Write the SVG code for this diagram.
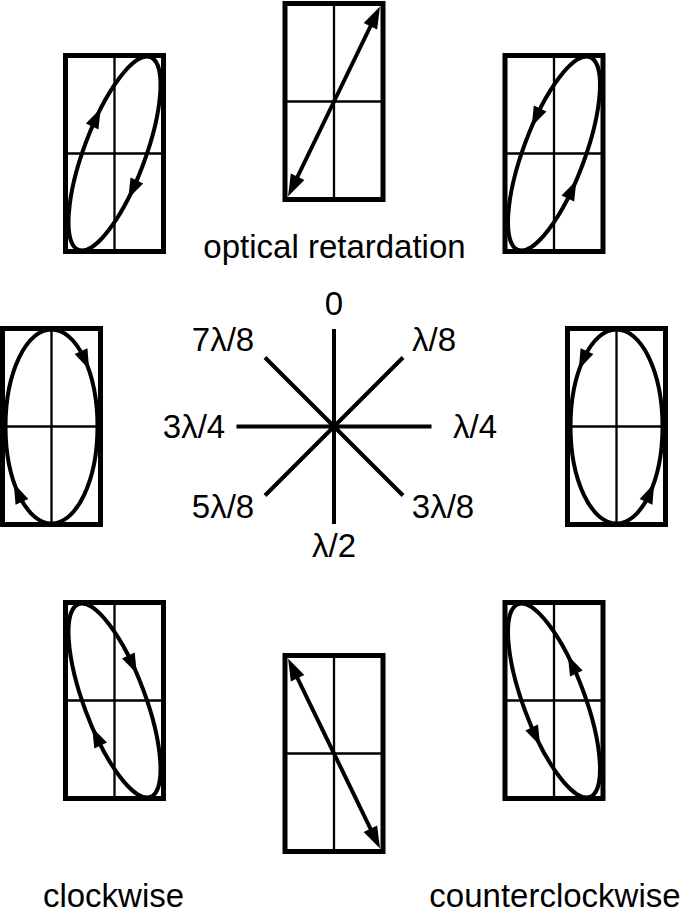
<svg xmlns="http://www.w3.org/2000/svg" width="685" height="920" viewBox="0 0 685 920">
<style>
.box{fill:none;stroke:#000;stroke-width:5}
.grid{fill:none;stroke:#000;stroke-width:2.3}
.pol{fill:none;stroke:#000;stroke-width:4}
.ray{stroke:#000;stroke-width:4;fill:none}
.lbl{font-family:"Liberation Sans",Arial,sans-serif;font-size:33px;fill:#000;text-anchor:middle}
</style>
<defs>
<path id="ah" d="M10,0 L-10,-7 L-10,7 Z"/>
<path id="at" d="M0,0 L-22,-7.5 L-22,7.5 Z"/>
<g id="frame"><path class="grid" d="M0,-98V98M-49,0H49"/><rect class="box" x="-49" y="-98" width="98" height="196"/></g>
</defs>
<rect width="685" height="920" fill="#fff"/>

<g id="ret-0" transform="translate(334,101.5)">
<use href="#frame"/>
<line class="pol" x1="-40" y1="82.5" x2="40" y2="-82.5"/>
<use href="#at" transform="translate(46,-95) rotate(-64.16)"/>
<use href="#at" transform="translate(-46,95) rotate(115.84)"/>
</g>

<g id="ret-1-8" transform="translate(554,153.5)">
<use href="#frame"/>
<ellipse class="pol" rx="102.88" ry="30.67" transform="rotate(-69.57)"/>
<use href="#ah" transform="translate(-18.1,-36) rotate(115.15)"/>
<use href="#ah" transform="translate(18.1,36) rotate(-64.85)"/>
</g>

<g id="ret-1-4" transform="translate(616.5,426.5)">
<use href="#frame"/>
<ellipse class="pol" rx="46" ry="97"/>
<use href="#ah" transform="translate(-33.6,-66.2) rotate(113.9)"/>
<use href="#ah" transform="translate(33.6,66.2) rotate(-66.1)"/>
</g>

<g id="ret-3-8" transform="translate(554,700.5)">
<use href="#frame"/>
<ellipse class="pol" rx="102.88" ry="30.67" transform="rotate(69.57)"/>
<use href="#ah" transform="translate(18.1,-36) rotate(-115.15)"/>
<use href="#ah" transform="translate(-18.1,36) rotate(64.85)"/>
</g>

<g id="ret-1-2" transform="translate(334,753.5)">
<use href="#frame"/>
<line class="pol" x1="-40" y1="-82.5" x2="40" y2="82.5"/>
<use href="#at" transform="translate(-46,-95) rotate(-115.84)"/>
<use href="#at" transform="translate(46,95) rotate(64.16)"/>
</g>

<g id="ret-5-8" transform="translate(114.5,700.5)">
<use href="#frame"/>
<ellipse class="pol" rx="102.88" ry="30.67" transform="rotate(69.57)"/>
<use href="#ah" transform="translate(18.1,-36) rotate(64.85)"/>
<use href="#ah" transform="translate(-18.1,36) rotate(-115.15)"/>
</g>

<g id="ret-3-4" transform="translate(51.5,426.5)">
<use href="#frame"/>
<ellipse class="pol" rx="46" ry="97"/>
<use href="#ah" transform="translate(33.6,-66.2) rotate(66.1)"/>
<use href="#ah" transform="translate(-33.6,66.2) rotate(-113.9)"/>
</g>

<g id="ret-7-8" transform="translate(114.5,153.5)">
<use href="#frame"/>
<ellipse class="pol" rx="102.88" ry="30.67" transform="rotate(-69.57)"/>
<use href="#ah" transform="translate(-18.1,-36) rotate(-64.85)"/>
<use href="#ah" transform="translate(18.1,36) rotate(115.15)"/>
</g>

<g id="connectors">
<path class="ray" d="M334,329V524M236.5,426.5H431.5M265,357.5L403,495.5M403,357.5L265,495.5"/>
</g>

<g id="labels">
<text class="lbl" x="334" y="315">0</text>
<text class="lbl" x="434" y="351">λ/8</text>
<text class="lbl" x="475" y="438">λ/4</text>
<text class="lbl" x="443" y="518">3λ/8</text>
<text class="lbl" x="334" y="557">λ/2</text>
<text class="lbl" x="223" y="518">5λ/8</text>
<text class="lbl" x="194" y="438">3λ/4</text>
<text class="lbl" x="223" y="351">7λ/8</text>
<text class="lbl" x="334.5" y="258">optical retardation</text>
<text class="lbl" x="113.5" y="907">clockwise</text>
<text class="lbl" x="555" y="907">counterclockwise</text>
</g>
</svg>
